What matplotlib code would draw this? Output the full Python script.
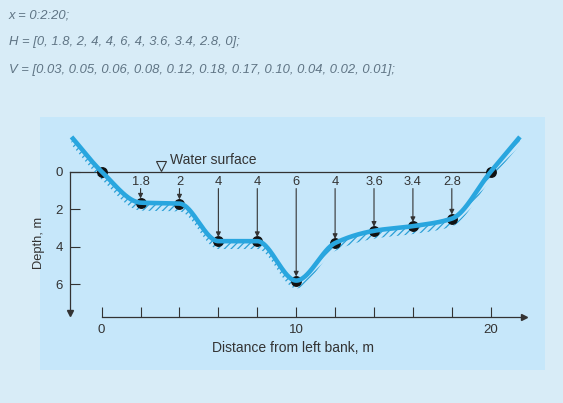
import numpy as np
import matplotlib
matplotlib.use("Agg")
import matplotlib.pyplot as plt

plt.rcParams['font.family'] = ['Liberation Sans', 'DejaVu Sans']
plt.rcParams['hatch.linewidth'] = 0.9

# data shown in the header text
x = np.arange(0, 21, 2)
H = [0, 1.8, 2, 4, 4, 6, 4, 3.6, 3.4, 2.8, 0]
V = [0.03, 0.05, 0.06, 0.08, 0.12, 0.18, 0.17, 0.10, 0.04, 0.02, 0.01]

# where the dots sit on the drawn bed
bed_depth = [0, 1.65, 1.7, 3.7, 3.7, 5.8, 3.8, 3.15, 2.9, 2.5, 0]
# bank ends of the bed curve
bank_x = [-1.55, 21.5]
bank_depth = [-1.85, -1.85]

blue = '#29a6df'
ink = '#333333'
outer_bg = '#d8ecf7'
panel_bg = '#c6e7fa'


def pchip(xk, yk, xs):
    # monotone cubic through the points
    xk = np.asarray(xk, float)
    yk = np.asarray(yk, float)
    h = np.diff(xk)
    d = np.diff(yk) / h
    m = np.zeros_like(yk)
    m[0], m[-1] = d[0], d[-1]
    for i in range(1, len(xk) - 1):
        if d[i - 1] * d[i] > 0:
            w1 = 2 * h[i] + h[i - 1]
            w2 = h[i] + 2 * h[i - 1]
            m[i] = (w1 + w2) / (w1 / d[i - 1] + w2 / d[i])
    idx = np.clip(np.searchsorted(xk, xs) - 1, 0, len(xk) - 2)
    t = (xs - xk[idx]) / h[idx]
    h00 = 2 * t**3 - 3 * t**2 + 1
    h10 = t**3 - 2 * t**2 + t
    h01 = -2 * t**3 + 3 * t**2
    h11 = t**3 - t**2
    return (h00 * yk[idx] + h10 * h[idx] * m[idx]
            + h01 * yk[idx + 1] + h11 * h[idx] * m[idx + 1])


fig = plt.figure(figsize=(5.63, 4.03), dpi=100, facecolor=outer_bg)

# header lines
hdr = dict(fontsize=9.4, style='italic', color='#5f7484', va='center')
fig.text(9 / 563, 1 - 15 / 403, "x = 0:2:20;", **hdr)
fig.text(9 / 563, 1 - 42 / 403,
         "H = [" + ", ".join(f"{h:g}" for h in H) + "];", **hdr)
fig.text(9 / 563, 1 - 70 / 403,
         "V = [" + ", ".join(f"{v:.2f}" for v in V) + "];", **hdr)

ax = fig.add_axes([40 / 563, 1 - 370 / 403, 505 / 563, 253 / 403])
ax.set_facecolor(panel_bg)
ax.set_xlim(-3.17, 22.79)
ax.set_ylim(10.56, -2.91)

# bed profile
kx = [bank_x[0]] + list(x) + [bank_x[1]]
ky = [bank_depth[0]] + bed_depth + [bank_depth[1]]
xs = np.linspace(kx[0], kx[-1], 600)
bed = pchip(kx, ky, xs)
ax.fill_between(xs, bed + 0.05, bed + 0.42, facecolor='none',
                edgecolor='#2a9fd6', hatch='/////', linewidth=0, zorder=2)
ax.plot(x, bed_depth, 'o', color='#111111', ms=6.8, zorder=3)
ax.plot(xs, bed, color=blue, lw=3.3, solid_capstyle='butt', zorder=4)

# water surface
ax.plot([-1.63, 20], [0, 0], color=ink, lw=0.9, zorder=1)
ax.plot([3.03], [-0.28], marker='v', ms=7.5, mfc='none', mec=ink, mew=0.8)
ax.text(3.5, -0.6, "Water surface", fontsize=10, color=ink, va='center')

# depth labels with arrows
for xi, hi, bi in zip(x, H, bed_depth):
    if hi == 0:
        continue
    ax.text(xi, 0.55, f"{hi:g}", fontsize=9.3, color=ink, ha='center', va='center')
    ax.annotate('', xy=(xi, bi - 0.22), xytext=(xi, 0.9),
                arrowprops=dict(arrowstyle='-|>', lw=0.8, color=ink,
                                mutation_scale=7, shrinkA=0, shrinkB=0))

# axes drawn as spines
for s in ['top', 'right']:
    ax.spines[s].set_visible(False)
ax.spines['left'].set_position(('data', -1.63))
ax.spines['left'].set_bounds(0, 7.45)
ax.spines['bottom'].set_position(('data', 7.73))
ax.spines['bottom'].set_bounds(0, 21.6)
for s in ['left', 'bottom']:
    ax.spines[s].set_color(ink)
    ax.spines[s].set_linewidth(0.9)
ax.plot([-1.63], [7.5], marker='v', ms=4, color=ink, clip_on=False)
ax.plot([21.7], [7.73], marker='>', ms=4, color=ink, clip_on=False)

ax.set_xticks([0, 10, 20])
ax.set_xticks(np.arange(0, 21, 2), minor=True)
ax.set_yticks([0, 2, 4, 6])
ax.tick_params(which='both', direction='in', length=7, width=0.8,
               color=ink, labelcolor=ink, labelsize=9.5)
ax.tick_params(axis='x', pad=5)
ax.tick_params(axis='y', pad=5)

ax.set_xlabel("Distance from left bank, m", fontsize=10, color=ink, labelpad=4)
ax.text(-3.2, 3.77, "Depth, m", rotation=90, fontsize=9.3, color=ink,
        ha='center', va='center', clip_on=False)

fig.savefig("out.png", dpi=100, facecolor=outer_bg)
